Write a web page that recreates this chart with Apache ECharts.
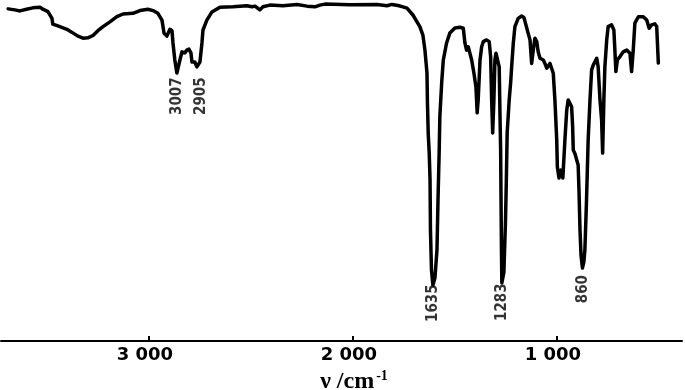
<!DOCTYPE html>
<html>
<head>
<meta charset="utf-8">
<script src="https://cdn.jsdelivr.net/npm/echarts@6/dist/echarts.min.js"></script>
<style>html,body{margin:0;padding:0;background:#fff}#c{width:685px;height:390px}</style>
</head>
<body>
<div id="c"></div>
<script>
// Wavenumber (cm^-1) and transmittance (%)
const wavenumbers = [3690,3657,3632,3600,3569,3534,3520,3495,3475,3471,
3446,3402,3377,3348,3323,3299,3274,3250,3225,3191,
3157,3127,3078,3044,3005,2980,2956,2936,2931,2926,
2912,2897,2887,2882,2873,2863,2858,2848,2838,2824,
2814,2804,2794,2789,2784,2775,2765,2760,2750,2740,
2735,2716,2691,2652,2588,2520,2495,2480,2456,2441,
2407,2343,2274,2225,2186,2162,2137,2015,1882,1833,
1809,1779,1755,1735,1706,1672,1657,1647,1637,1635,
1631,1626,1622,1620,1615,1608,1598,1588,1583,1577,
1574,1565,1557,1541,1525,1500,1476,1459,1451,1443,
1435,1427,1418,1407,1397,1391,1386,1377,1369,1361,
1345,1332,1325,1320,1315,1309,1304,1299,1293,1283,
1279,1276,1274,1272,1270,1260,1252,1248,1244,1234,
1227,1222,1214,1206,1190,1173,1162,1152,1141,1132,
1124,1116,1108,1099,1092,1083,1067,1059,1050,1043,
1034,1026,1018,1010,1001,998,990,980,971,961,
952,945,936,928,923,920,912,903,896,892,
887,882,875,868,863,855,851,847,838,830,
822,805,798,789,781,776,770,765,756,749,
732,721,716,711,704,691,675,658,642,634,
626,618,601,577,560,548,536,520,511,507,503];
const transmittance = [97.4,97.1,96.8,97.3,97.7,97.9,97.3,96.6,94.6,92.9,
92.4,91.4,90.5,89.4,88.8,88.9,89.6,91.0,92.2,93.6,
95.1,95.9,96.1,96.9,97.3,96.9,96.1,94.1,92.2,90.3,
89.4,91.4,91.0,87.4,82.4,78.6,78.9,82.4,84.8,84.5,
85.3,85.6,84.5,81.8,81.5,81.8,80.4,80.1,81.8,87.4,
91.2,94.1,96.5,97.9,98.0,98.3,98.0,98.2,97.1,98.0,
98.5,98.3,98.7,98.2,98.0,98.5,98.8,98.6,98.7,98.3,
98.7,98.4,98.0,97.6,95.6,92.2,89.7,85.3,78.6,70.7,
61.0,55.1,47.2,32.6,20.8,16.4,18.5,26.7,41.3,56.0,
65.7,75.7,82.4,87.4,90.3,91.8,92.0,91.7,87.4,85.3,
86.3,84.5,82.4,78.6,74.5,66.9,70.7,82.4,86.3,87.8,
88.3,87.8,83.4,70.7,61.0,70.7,82.4,84.4,83.9,80.4,
65.7,56.0,41.3,26.7,17.0,20.2,35.5,47.2,61.0,70.7,
75.7,80.4,87.3,92.2,94.6,95.3,94.9,92.7,90.2,88.3,
81.4,85.3,88.8,87.8,84.8,82.9,82.4,81.4,80.0,80.4,
81.4,80.9,78.5,70.7,58.9,51.1,47.8,50.1,47.8,58.9,
67.7,70.7,71.2,68.7,62.8,56.0,55.0,55.5,51.6,44.3,
32.6,25.2,21.4,23.2,26.7,41.3,50.1,58.9,70.7,79.5,
80.9,82.9,80.4,70.7,64.8,55.1,70.7,80.4,88.3,92.2,
92.7,91.2,85.3,79.0,82.4,83.4,84.8,85.3,84.4,79.0,
85.3,93.2,95.1,95.1,94.1,91.7,92.7,93.0,92.2,86.8,81.5];

// Peak annotations
const peakLabels = ['3007','2905','1635','1283','860'];
const peakX = [2863,2745,1608,1270,873];
const peakY = [71.8,71.8,11.1,11.4,15.2];

// Axis ticks
const tickValues = [1000,2000,3000];
const tickLabels = ['1 000','2 000','3 000'];

const spectrum = wavenumbers.map((w,i)=>[w,transmittance[i]]);
const peaks = peakX.map((x,i)=>({value:[x,peakY[i]], name:peakLabels[i]}));

const chart = echarts.init(document.getElementById('c'));
chart.setOption({
  animation:false,
  backgroundColor:'#fff',
  grid:{left:1,right:3,top:0,bottom:49,containLabel:false,outerBoundsMode:'none'},
  xAxis:{
    type:'value', inverse:true, min:387, max:3725,
    splitLine:{show:false},
    axisLine:{show:true,lineStyle:{color:'#000',width:2}},
    axisTick:{show:true,inside:true,length:5,lineStyle:{color:'#000',width:2},customValues:tickValues},
    axisLabel:{color:'#000',fontFamily:'DejaVu Sans',fontWeight:'bold',fontSize:18,margin:5,
      padding:[0,8,0,0],
      customValues:tickValues,
      formatter:(v)=>tickLabels[tickValues.indexOf(v)]||''},
    name:'{a|ν /cm}{b|-1}',
    nameLocation:'middle', nameGap:24,
    nameTextStyle:{padding:[0,0,0,25],
      rich:{a:{fontFamily:'Liberation Serif',fontWeight:'bold',fontSize:24,color:'#000'},
            b:{fontFamily:'Liberation Serif',fontWeight:'bold',fontSize:14,color:'#000',verticalAlign:'top',padding:[0,0,12,2]}}}
  },
  yAxis:{type:'value',min:0,max:100,show:false},
  series:[
    {type:'line',data:spectrum,showSymbol:false,symbol:'none',
      lineStyle:{color:'#000',width:3.5,join:'round',cap:'round'}},
    {type:'scatter',data:peaks,symbolSize:0,
      label:{show:true,position:'inside',rotate:90,formatter:(p)=>p.name,
        fontFamily:'Liberation Sans Narrow, DejaVu Sans Condensed',fontWeight:'bold',fontSize:15,color:'#000'}}
  ]
});
</script>
</body>
</html>
